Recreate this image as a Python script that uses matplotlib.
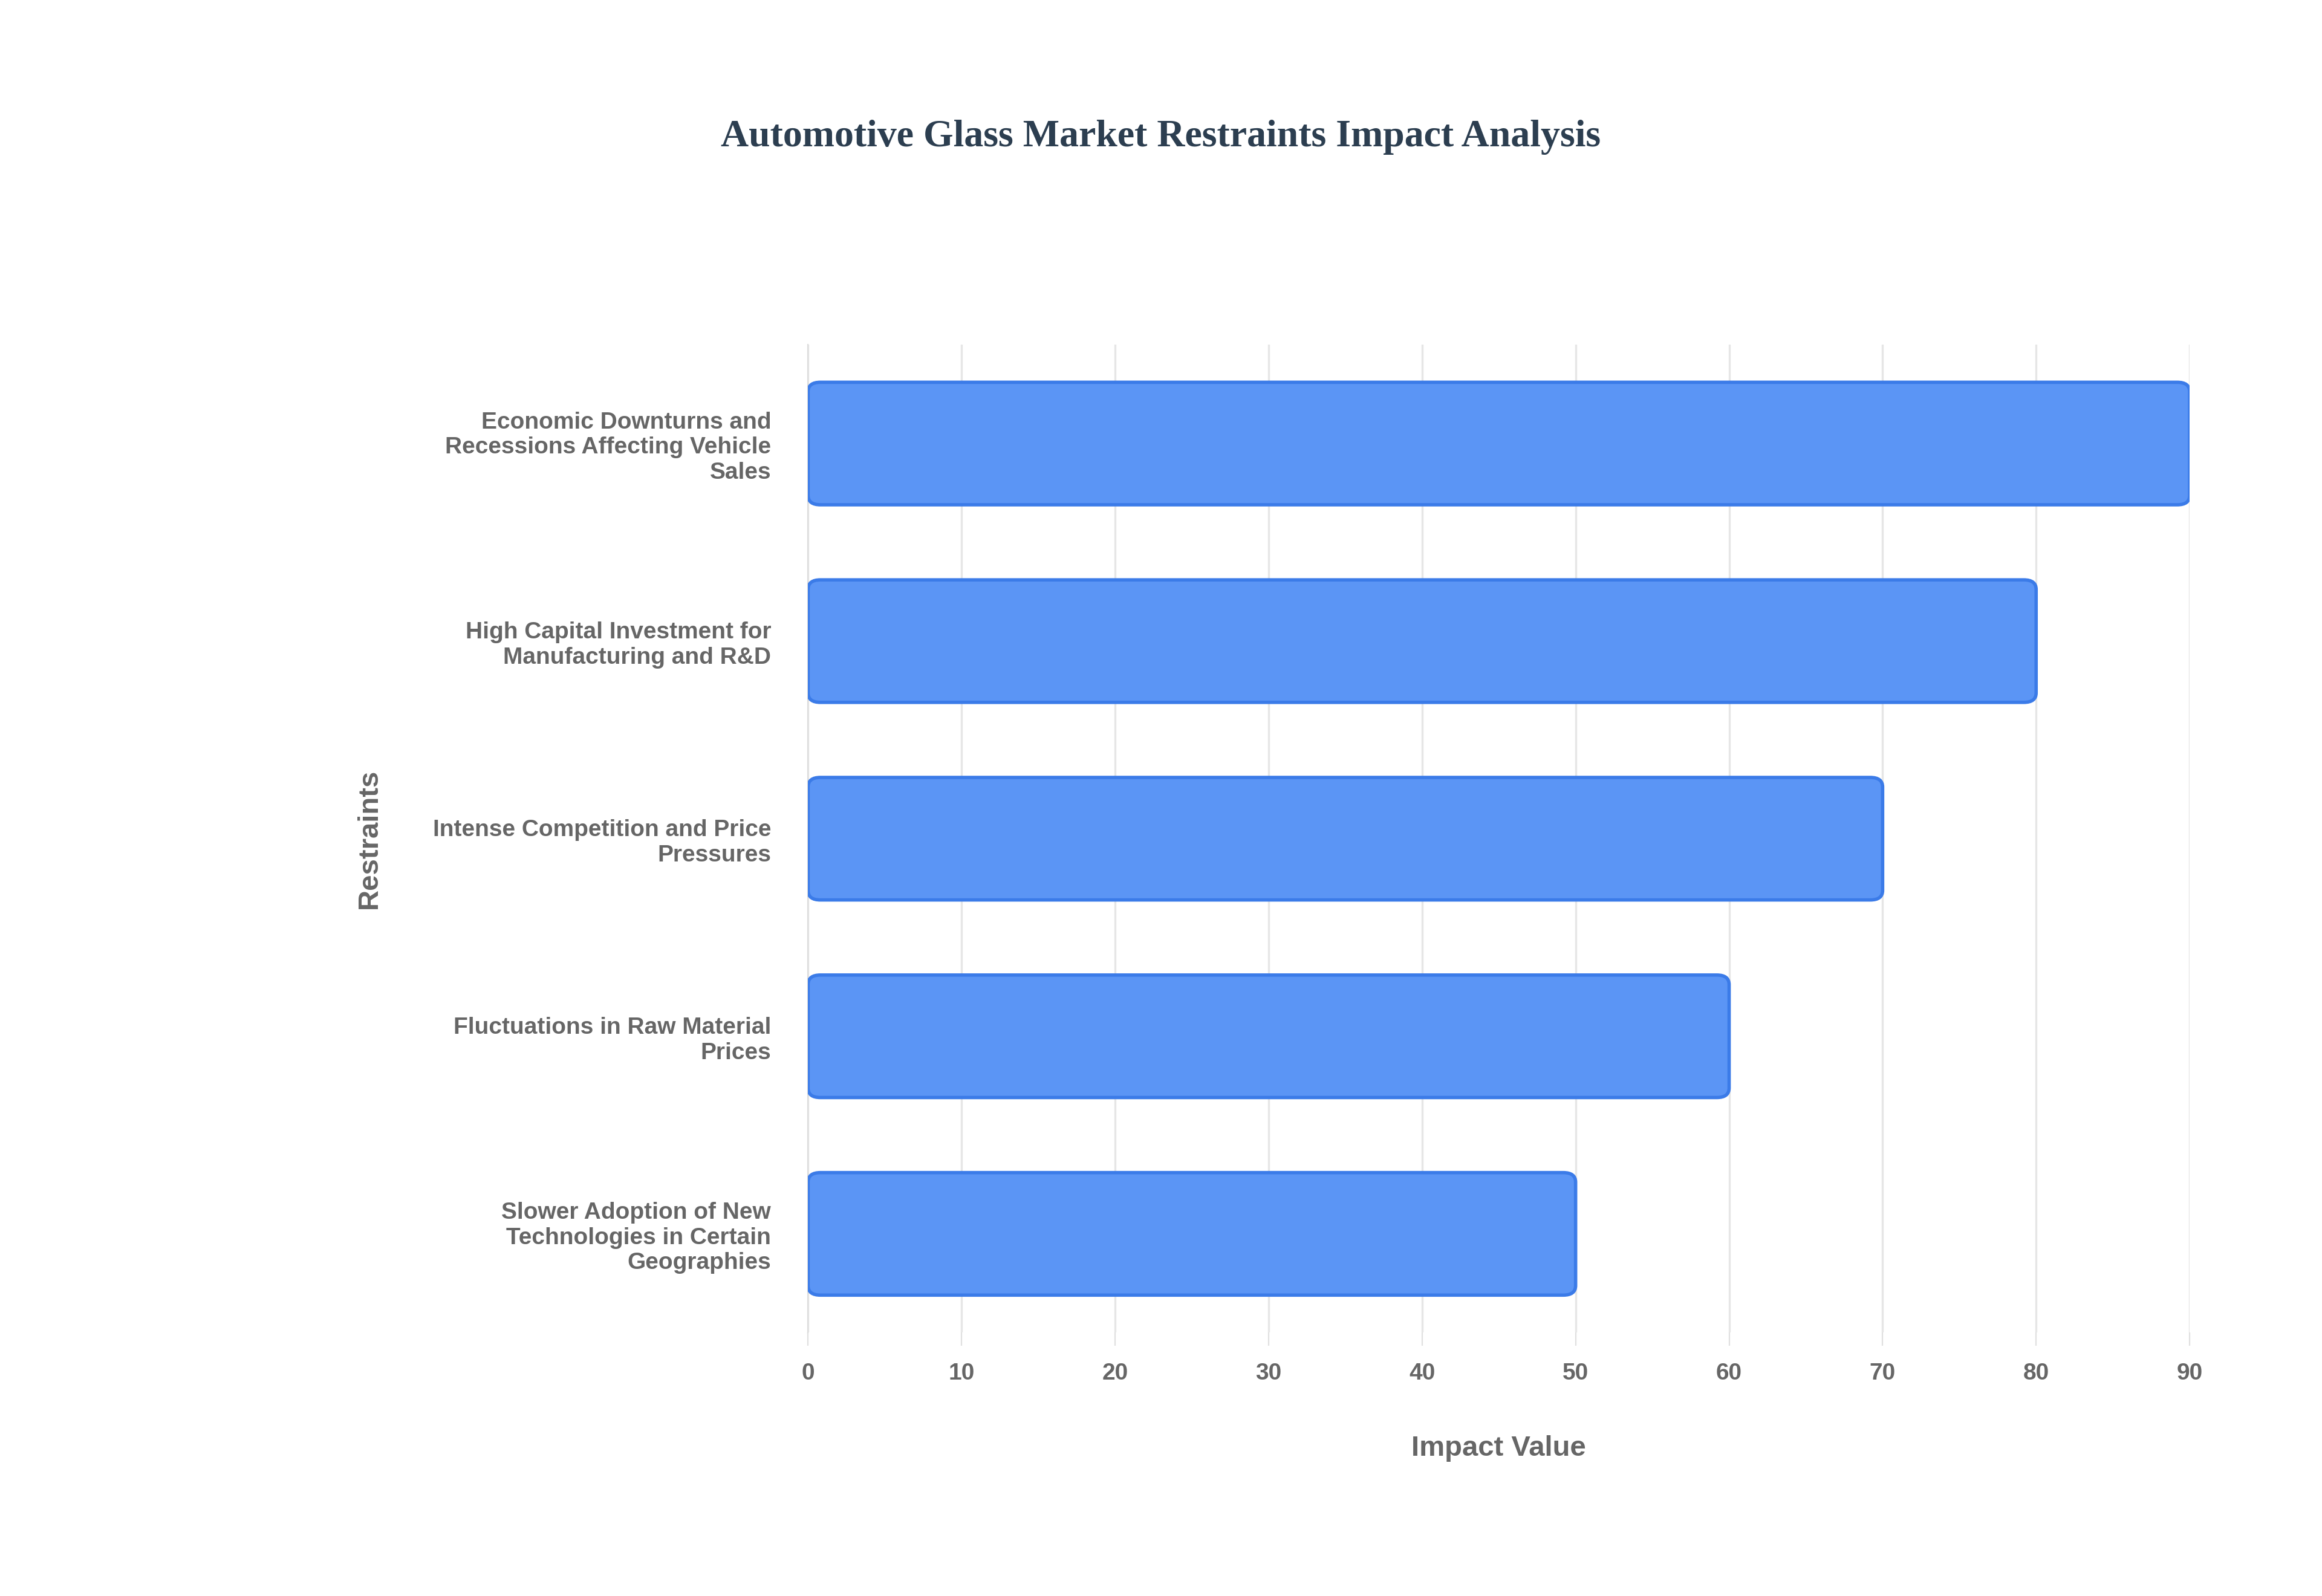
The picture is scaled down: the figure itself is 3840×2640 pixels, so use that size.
import matplotlib.pyplot as plt
from matplotlib.patches import FancyBboxPatch

restraints = [
    "Economic Downturns and\nRecessions Affecting Vehicle\nSales",
    "High Capital Investment for\nManufacturing and R&D",
    "Intense Competition and Price\nPressures",
    "Fluctuations in Raw Material\nPrices",
    "Slower Adoption of New\nTechnologies in Certain\nGeographies",
]
impact = [90, 80, 70, 60, 50]
xticks = [0, 10, 20, 30, 40, 50, 60, 70, 80, 90]

plt.rcParams['font.family'] = ['Liberation Sans', 'DejaVu Sans']

fig = plt.figure(figsize=(19.2, 13.2), dpi=200)
ax = fig.add_axes([0.348, 0.165, 0.595, 0.619])

ypos = list(range(len(restraints)))
bars = ax.barh(ypos, impact, height=0.62, color='#4285f4', alpha=0.0)
for b in bars:
    x, y = b.get_x(), b.get_y()
    w, h = b.get_width(), b.get_height()
    p = FancyBboxPatch((x, y), w, h, boxstyle="round,pad=0,rounding_size=0.8",
                       mutation_aspect=0.06, facecolor='#5b95f5', edgecolor='#3b7be8',
                       linewidth=2, zorder=3)
    ax.add_patch(p)

ax.set_xlim(0, 90)
ax.set_ylim(len(restraints) - 0.5, -0.5 - 0.0)
ax.set_yticks(ypos)
ax.set_yticklabels(restraints, fontsize=14, fontweight='bold', color='#666666')
ax.set_xticks(xticks)
ax.set_xticklabels([str(t) for t in xticks], fontsize=14, fontweight='bold', color='#666666')
ax.tick_params(axis='y', length=0, pad=22)
ax.tick_params(axis='x', length=8, color='#e0e0e0', pad=10)
ax.grid(axis='x', color='#e6e6e6', linewidth=1.2, zorder=0)
ax.set_axisbelow(True)
for s in ['top', 'right', 'bottom']:
    ax.spines[s].set_visible(False)
ax.spines['left'].set_color('#dddddd')

ax.set_xlabel('Impact Value', fontsize=17, fontweight='bold', color='#666666', labelpad=30)
ax.set_ylabel('Restraints', fontsize=17, fontweight='bold', color='#666666', labelpad=30)
fig.text(0.5, 0.914, 'Automotive Glass Market Restraints Impact Analysis',
         ha='center', va='center', fontsize=23, fontweight='bold',
         family='Liberation Serif', color='#2c3e50')

fig.savefig('out.png', dpi=200, facecolor='white')
